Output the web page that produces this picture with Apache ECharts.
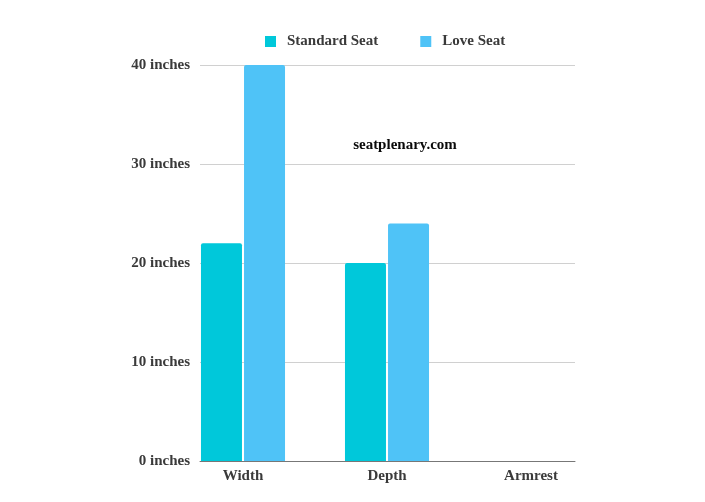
<!DOCTYPE html>
<html><head><meta charset="utf-8">
<script src="https://cdn.jsdelivr.net/npm/echarts@6/dist/echarts.min.js"></script>
<style>html,body{margin:0;padding:0;background:#fff}#c{width:705px;height:502px}</style>
</head><body><div id="c"></div>
<script>
var categories = ['Width', 'Depth', 'Armrest'];
var standardSeat = [22, 20, 0];
var loveSeat = [40, 24, 0];
var yTicks = [0, 10, 20, 30, 40];
var seriesNames = ['Standard Seat', 'Love Seat'];

var font = '"Liberation Serif", "DejaVu Serif", serif';
var txt = {fontFamily: font, fontSize: 15, fontWeight: 'bold', color: '#3a3a3a'};
var chart = echarts.init(document.getElementById('c'));
chart.setOption({
  animation: false,
  grid: [
    {left: 171, right: 102, top: 65, bottom: 41},
    {left: 200, right: 130, top: 65, bottom: 41}
  ],
  legend: {
    data: seriesNames, top: 29, left: 260, itemWidth: 11, itemHeight: 11, itemGap: 42,
    icon: 'rect',
    textStyle: Object.assign({padding: [0, 0, 0, 6]}, txt)
  },
  graphic: [{type: 'text', x: 405, y: 145,
    style: {text: 'seatplenary.com', font: 'bold 15px ' + font, fill: '#0a0a0a',
      textAlign: 'center', textVerticalAlign: 'middle'}}],
  xAxis: [
    {type: 'category', gridIndex: 0, data: categories,
     axisLine: {show: false}, axisTick: {show: false},
     axisLabel: Object.assign({margin: 8}, txt)},
    {type: 'value', gridIndex: 1, min: 0, max: 1, show: true,
     axisLine: {show: true, lineStyle: {color: '#777', width: 1}},
     axisTick: {show: false}, axisLabel: {show: false}, splitLine: {show: false}}
  ],
  yAxis: [
    {type: 'value', gridIndex: 0, min: 0, max: 40, interval: 10, show: false, splitLine: {show: false}},
    {type: 'value', gridIndex: 1, min: 0, max: 40, interval: 10,
     axisLine: {show: false}, axisTick: {show: false},
     splitLine: {lineStyle: {color: '#d0d0d0', width: 1}},
     axisLabel: Object.assign({margin: 10,
       formatter: function (v) { return yTicks.indexOf(v) >= 0 ? v + ' inches' : ''; }}, txt)}
  ],
  series: [
    {name: seriesNames[0], type: 'bar', xAxisIndex: 0, yAxisIndex: 0, data: standardSeat,
     barWidth: 41, barGap: '5%', itemStyle: {color: '#00c8da', borderRadius: [2, 2, 0, 0]}},
    {name: seriesNames[1], type: 'bar', xAxisIndex: 0, yAxisIndex: 0, data: loveSeat,
     barWidth: 41, barGap: '5%', itemStyle: {color: '#4fc3f7', borderRadius: [2, 2, 0, 0]}}
  ]
});
</script></body></html>
